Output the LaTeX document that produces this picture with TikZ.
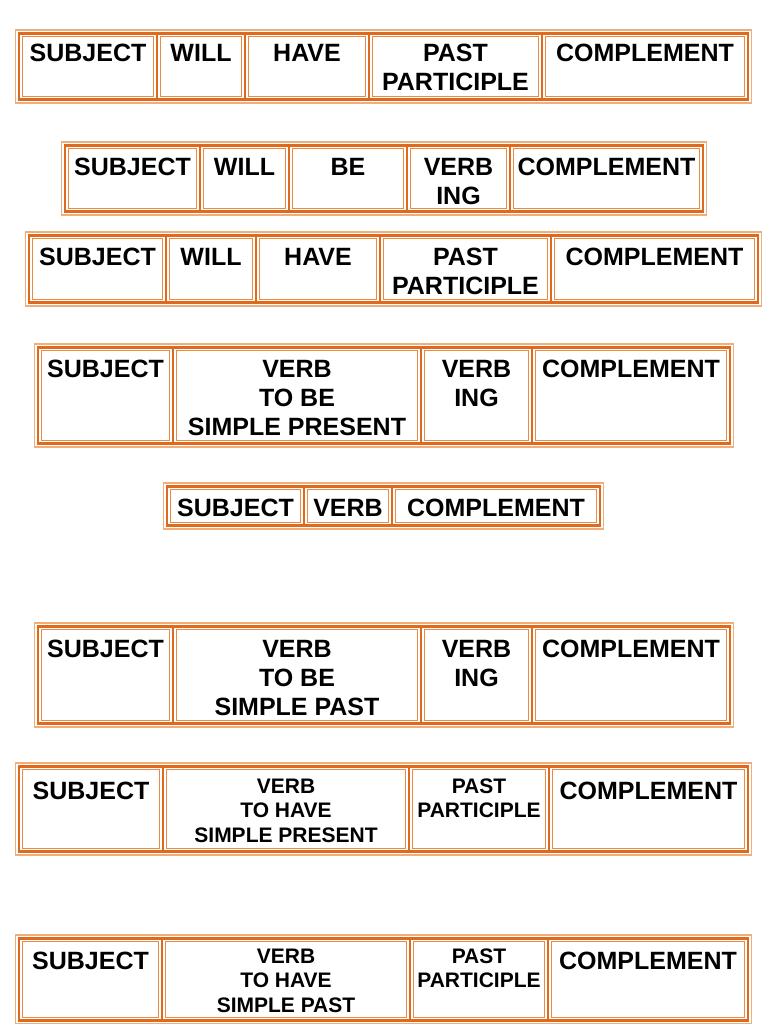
\documentclass[tikz,border=0pt]{standalone}
\usepackage{fontspec}
\setmainfont{Liberation Sans}
\newcommand\bigtextstrut{\rule{0pt}{19pt}}
\newcommand\smalltextstrut{\rule{0pt}{16pt}}
\begin{document}
\begin{tikzpicture}[x=1pt,y=-1pt,
  thickline/.style={draw=orA,line width=2.8pt},
  outerline/.style={draw=orL,line width=1.1pt},
  innerline/.style={draw=orM,line width=1pt},
  bigtext/.style={font=\bfseries\fontsize{25}{29}\selectfont,align=center,inner sep=0pt,anchor=north,yshift=-1.5pt},
  smalltext/.style={font=\bfseries\fontsize{21}{24.5}\selectfont,align=center,inner sep=0pt,anchor=north,yshift=0pt}]
\definecolor{orA}{HTML}{DF6A1E}
\definecolor{orL}{HTML}{F2AE7A}
\definecolor{orM}{HTML}{EA8A45}
\useasboundingbox (0,0) rectangle (768,1024);
\fill[white] (0,0) rectangle (768,1024);
% frame: outer thin line around thick box
\newcommand\tframe[4]{% x0 x1 y0 y1 (thick box)
  \draw[outerline] ({#1-3.8},{#3-3.5}) rectangle ({#2+3.8},{#4+3.5});
  \draw[thickline] (#1,#3) rectangle (#2,#4);}
% cell: name xl xr yt yb captop style text
\newcommand\tcell[8]{%
  \draw[thickline] (#2,#4) rectangle (#3,#5);
  \draw[innerline] ({#2+3.6},{#4+3.4}) rectangle ({#3-3.6},{#5-3.4});
  \node[#7] (#1) at ({(#2+#3)/2},#6) {\csname #7strut\endcsname#8};}

% ---- Table 1
\tframe{19}{748}{33.5}{99.5}
\tcell{a1}{19}{157}{33.5}{99.5}{41}{bigtext}{SUBJECT}
\tcell{a2}{157}{245}{33.5}{99.5}{41}{bigtext}{WILL}
\tcell{a3}{245}{369}{33.5}{99.5}{41}{bigtext}{HAVE}
\tcell{a4}{369}{542}{33.5}{99.5}{41}{bigtext}{PAST\\PARTICIPLE}
\tcell{a5}{542}{748}{33.5}{99.5}{41}{bigtext}{COMPLEMENT}

% ---- Table 2
\tframe{65}{703}{145.5}{211.5}
\tcell{b1}{65}{200}{145.5}{211.5}{155}{bigtext}{SUBJECT}
\tcell{b2}{200}{289}{145.5}{211.5}{155}{bigtext}{WILL}
\tcell{b3}{289}{407}{145.5}{211.5}{155}{bigtext}{BE}
\tcell{b4}{407}{510}{145.5}{211.5}{155}{bigtext}{VERB\\ING}
\tcell{b5}{510}{703}{145.5}{211.5}{155}{bigtext}{COMPLEMENT}

% ---- Table 3
\tframe{29}{758}{235.5}{302.5}
\tcell{c1}{29}{166}{235.5}{302.5}{245}{bigtext}{SUBJECT}
\tcell{c2}{166}{256}{235.5}{302.5}{245}{bigtext}{WILL}
\tcell{c3}{256}{380}{235.5}{302.5}{245}{bigtext}{HAVE}
\tcell{c4}{380}{551}{235.5}{302.5}{245}{bigtext}{PAST\\PARTICIPLE}
\tcell{c5}{551}{758}{235.5}{302.5}{245}{bigtext}{COMPLEMENT}

% ---- Table 4
\tframe{38}{730}{347.5}{443.5}
\tcell{d1}{38}{173}{347.5}{443.5}{357}{bigtext}{SUBJECT}
\tcell{d2}{173}{421}{347.5}{443.5}{357}{bigtext}{VERB\\TO BE\\SIMPLE PRESENT}
\tcell{d3}{421}{532}{347.5}{443.5}{357}{bigtext}{VERB\\ING}
\tcell{d4}{532}{730}{347.5}{443.5}{357}{bigtext}{COMPLEMENT}

% ---- Table 5
\tframe{167}{600}{486.5}{525.5}
\tcell{e1}{167}{304}{486.5}{525.5}{496}{bigtext}{SUBJECT}
\tcell{e2}{304}{392}{486.5}{525.5}{496}{bigtext}{VERB}
\tcell{e3}{392}{600}{486.5}{525.5}{496}{bigtext}{COMPLEMENT}

% ---- Table 6
\tframe{38}{730}{626.5}{723.5}
\tcell{f1}{38}{173}{626.5}{723.5}{637}{bigtext}{SUBJECT}
\tcell{f2}{173}{421}{626.5}{723.5}{637}{bigtext}{VERB\\TO BE\\SIMPLE PAST}
\tcell{f3}{421}{532}{626.5}{723.5}{637}{bigtext}{VERB\\ING}
\tcell{f4}{532}{730}{626.5}{723.5}{637}{bigtext}{COMPLEMENT}

% ---- Table 7
\tframe{19}{748}{766.5}{851.5}
\tcell{g1}{19}{163}{766.5}{851.5}{779}{bigtext}{SUBJECT}
\tcell{g2}{163}{409}{766.5}{851.5}{777}{smalltext}{VERB\\TO HAVE\\SIMPLE PRESENT}
\tcell{g3}{409}{549}{766.5}{851.5}{777}{smalltext}{PAST\\PARTICIPLE}
\tcell{g4}{549}{748}{766.5}{851.5}{779}{bigtext}{COMPLEMENT}

% ---- Table 8
\tframe{19}{748}{938.5}{1020.5}
\tcell{h1}{19}{162}{938.5}{1020.5}{949}{bigtext}{SUBJECT}
\tcell{h2}{162}{410}{938.5}{1020.5}{947}{smalltext}{VERB\\TO HAVE\\SIMPLE PAST}
\tcell{h3}{410}{548}{938.5}{1020.5}{947}{smalltext}{PAST\\PARTICIPLE}
\tcell{h4}{548}{748}{938.5}{1020.5}{949}{bigtext}{COMPLEMENT}
\end{tikzpicture}
\end{document}
